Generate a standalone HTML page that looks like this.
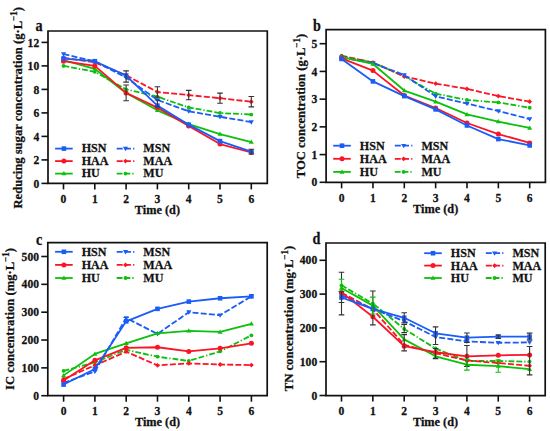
<!DOCTYPE html>
<html><head><meta charset="utf-8"><style>
html,body{margin:0;padding:0;background:#fff;width:550px;height:431px;overflow:hidden}
svg{display:block}
text{font-family:"Liberation Serif",serif;font-weight:bold;fill:#111;stroke:#111;stroke-width:0.25px}
</style></head><body>
<svg width="550" height="431" viewBox="0 0 550 431">
<rect width="550" height="431" fill="#fff"/>
<path d="M63.50,65.90L94.80,71.78L126.10,89.40L157.40,96.69L188.70,107.50L220.00,113.02L251.30,114.55" fill="none" stroke="#0cc00c" stroke-width="1.8" stroke-dasharray="5.8,2,5.8,2,1.3,2" stroke-linejoin="round"/>
<circle cx="63.50" cy="65.90" r="1.90" fill="#0cc00c"/>
<circle cx="94.80" cy="71.78" r="1.90" fill="#0cc00c"/>
<circle cx="126.10" cy="89.40" r="1.90" fill="#0cc00c"/>
<circle cx="157.40" cy="96.69" r="1.90" fill="#0cc00c"/>
<circle cx="188.70" cy="107.50" r="1.90" fill="#0cc00c"/>
<circle cx="220.00" cy="113.02" r="1.90" fill="#0cc00c"/>
<circle cx="251.30" cy="114.55" r="1.90" fill="#0cc00c"/>
<path d="M63.50,57.68L94.80,62.38L126.10,75.30L157.40,91.98L188.70,95.04L220.00,98.21L251.30,101.74" fill="none" stroke="#fc1424" stroke-width="1.8" stroke-dasharray="6,2.2" stroke-linejoin="round"/>
<path d="M63.50,55.28L65.90,57.68L63.50,60.08L61.10,57.68Z" fill="#fc1424"/>
<path d="M94.80,59.98L97.20,62.38L94.80,64.78L92.40,62.38Z" fill="#fc1424"/>
<path d="M126.10,72.90L128.50,75.30L126.10,77.70L123.70,75.30Z" fill="#fc1424"/>
<path d="M157.40,89.58L159.80,91.98L157.40,94.39L155.00,91.98Z" fill="#fc1424"/>
<path d="M188.70,92.64L191.10,95.04L188.70,97.44L186.30,95.04Z" fill="#fc1424"/>
<path d="M220.00,95.81L222.40,98.21L220.00,100.61L217.60,98.21Z" fill="#fc1424"/>
<path d="M251.30,99.34L253.70,101.74L251.30,104.14L248.90,101.74Z" fill="#fc1424"/>
<path d="M63.50,54.15L94.80,61.20L126.10,77.65L157.40,99.98L188.70,111.26L220.00,116.78L251.30,122.07" fill="none" stroke="#1a5cf8" stroke-width="1.8" stroke-dasharray="6,2.2" stroke-linejoin="round"/>
<path d="M63.50,56.75L66.10,52.33L60.90,52.33Z" fill="#1a5cf8"/>
<path d="M94.80,63.80L97.40,59.38L92.20,59.38Z" fill="#1a5cf8"/>
<path d="M126.10,80.25L128.70,75.83L123.50,75.83Z" fill="#1a5cf8"/>
<path d="M157.40,102.58L160.00,98.16L154.80,98.16Z" fill="#1a5cf8"/>
<path d="M188.70,113.86L191.30,109.44L186.10,109.44Z" fill="#1a5cf8"/>
<path d="M220.00,119.38L222.60,114.96L217.40,114.96Z" fill="#1a5cf8"/>
<path d="M251.30,124.67L253.90,120.25L248.70,120.25Z" fill="#1a5cf8"/>
<path d="M63.50,60.03L94.80,68.84L126.10,92.92L157.40,110.32L188.70,124.06L220.00,134.05L251.30,142.04" fill="none" stroke="#0cc00c" stroke-width="1.8" stroke-linejoin="round"/>
<path d="M63.50,57.53L66.00,61.78L61.00,61.78Z" fill="#0cc00c"/>
<path d="M94.80,66.34L97.30,70.59L92.30,70.59Z" fill="#0cc00c"/>
<path d="M126.10,90.42L128.60,94.67L123.60,94.67Z" fill="#0cc00c"/>
<path d="M157.40,107.82L159.90,112.07L154.90,112.07Z" fill="#0cc00c"/>
<path d="M188.70,121.56L191.20,125.81L186.20,125.81Z" fill="#0cc00c"/>
<path d="M220.00,131.55L222.50,135.80L217.50,135.80Z" fill="#0cc00c"/>
<path d="M251.30,139.54L253.80,143.79L248.80,143.79Z" fill="#0cc00c"/>
<path d="M63.50,61.20L94.80,65.90L126.10,92.92L157.40,107.61L188.70,126.06L220.00,144.04L251.30,152.50" fill="none" stroke="#fc1424" stroke-width="1.8" stroke-linejoin="round"/>
<circle cx="63.50" cy="61.20" r="2.50" fill="#fc1424"/>
<circle cx="94.80" cy="65.90" r="2.50" fill="#fc1424"/>
<circle cx="126.10" cy="92.92" r="2.50" fill="#fc1424"/>
<circle cx="157.40" cy="107.61" r="2.50" fill="#fc1424"/>
<circle cx="188.70" cy="126.06" r="2.50" fill="#fc1424"/>
<circle cx="220.00" cy="144.04" r="2.50" fill="#fc1424"/>
<circle cx="251.30" cy="152.50" r="2.50" fill="#fc1424"/>
<path d="M63.50,58.62L94.80,61.20L126.10,75.54L157.40,105.62L188.70,124.65L220.00,141.10L251.30,151.68" fill="none" stroke="#1a5cf8" stroke-width="1.8" stroke-linejoin="round"/>
<rect x="61.20" y="56.32" width="4.60" height="4.60" fill="#1a5cf8"/>
<rect x="92.50" y="58.90" width="4.60" height="4.60" fill="#1a5cf8"/>
<rect x="123.80" y="73.24" width="4.60" height="4.60" fill="#1a5cf8"/>
<rect x="155.10" y="103.32" width="4.60" height="4.60" fill="#1a5cf8"/>
<rect x="186.40" y="122.35" width="4.60" height="4.60" fill="#1a5cf8"/>
<rect x="217.70" y="138.80" width="4.60" height="4.60" fill="#1a5cf8"/>
<rect x="249.00" y="149.38" width="4.60" height="4.60" fill="#1a5cf8"/>
<path d="M126.10,70.84V82.12M123.30,70.84H128.90M123.30,82.12H128.90" stroke="#333" stroke-width="1.1" fill="none"/>
<path d="M126.10,85.05V100.80M123.30,85.05H128.90M123.30,100.80H128.90" stroke="#333" stroke-width="1.1" fill="none"/>
<path d="M157.40,86.81V97.16M154.60,86.81H160.20M154.60,97.16H160.20" stroke="#333" stroke-width="1.1" fill="none"/>
<path d="M157.40,99.98V107.03M154.60,99.98H160.20M154.60,107.03H160.20" stroke="#333" stroke-width="1.1" fill="none"/>
<path d="M188.70,90.34V99.74M185.90,90.34H191.50M185.90,99.74H191.50" stroke="#333" stroke-width="1.1" fill="none"/>
<path d="M220.00,93.16V103.27M217.20,93.16H222.80M217.20,103.27H222.80" stroke="#333" stroke-width="1.1" fill="none"/>
<path d="M251.30,96.57V106.91M248.50,96.57H254.10M248.50,106.91H254.10" stroke="#333" stroke-width="1.1" fill="none"/>
<path d="M251.30,149.32V154.03M248.50,149.32H254.10M248.50,154.03H254.10" stroke="#333" stroke-width="1.1" fill="none"/>
<path d="M48,31H267.3V183.4H48Z" fill="none" stroke="#111" stroke-width="1.7"/>
<path d="M41.50,183.40H48" stroke="#111" stroke-width="1.6"/>
<text transform="translate(39.20,187.50) scale(1,1.06)" font-size="11.6" text-anchor="end" font-family="'Liberation Serif', serif" font-weight="bold">0</text>
<path d="M41.50,159.90H48" stroke="#111" stroke-width="1.6"/>
<text transform="translate(39.20,164.00) scale(1,1.06)" font-size="11.6" text-anchor="end" font-family="'Liberation Serif', serif" font-weight="bold">2</text>
<path d="M41.50,136.40H48" stroke="#111" stroke-width="1.6"/>
<text transform="translate(39.20,140.50) scale(1,1.06)" font-size="11.6" text-anchor="end" font-family="'Liberation Serif', serif" font-weight="bold">4</text>
<path d="M41.50,112.90H48" stroke="#111" stroke-width="1.6"/>
<text transform="translate(39.20,117.00) scale(1,1.06)" font-size="11.6" text-anchor="end" font-family="'Liberation Serif', serif" font-weight="bold">6</text>
<path d="M41.50,89.40H48" stroke="#111" stroke-width="1.6"/>
<text transform="translate(39.20,93.50) scale(1,1.06)" font-size="11.6" text-anchor="end" font-family="'Liberation Serif', serif" font-weight="bold">8</text>
<path d="M41.50,65.90H48" stroke="#111" stroke-width="1.6"/>
<text transform="translate(39.20,70.00) scale(1,1.06)" font-size="11.6" text-anchor="end" font-family="'Liberation Serif', serif" font-weight="bold">10</text>
<path d="M41.50,42.40H48" stroke="#111" stroke-width="1.6"/>
<text transform="translate(39.20,46.50) scale(1,1.06)" font-size="11.6" text-anchor="end" font-family="'Liberation Serif', serif" font-weight="bold">12</text>
<path d="M63.50,183.4V189.40" stroke="#111" stroke-width="1.6"/>
<text transform="translate(63.50,203.10) scale(1,1.06)" font-size="11.6" text-anchor="middle" font-family="'Liberation Serif', serif" font-weight="bold">0</text>
<path d="M94.80,183.4V189.40" stroke="#111" stroke-width="1.6"/>
<text transform="translate(94.80,203.10) scale(1,1.06)" font-size="11.6" text-anchor="middle" font-family="'Liberation Serif', serif" font-weight="bold">1</text>
<path d="M126.10,183.4V189.40" stroke="#111" stroke-width="1.6"/>
<text transform="translate(126.10,203.10) scale(1,1.06)" font-size="11.6" text-anchor="middle" font-family="'Liberation Serif', serif" font-weight="bold">2</text>
<path d="M157.40,183.4V189.40" stroke="#111" stroke-width="1.6"/>
<text transform="translate(157.40,203.10) scale(1,1.06)" font-size="11.6" text-anchor="middle" font-family="'Liberation Serif', serif" font-weight="bold">3</text>
<path d="M188.70,183.4V189.40" stroke="#111" stroke-width="1.6"/>
<text transform="translate(188.70,203.10) scale(1,1.06)" font-size="11.6" text-anchor="middle" font-family="'Liberation Serif', serif" font-weight="bold">4</text>
<path d="M220.00,183.4V189.40" stroke="#111" stroke-width="1.6"/>
<text transform="translate(220.00,203.10) scale(1,1.06)" font-size="11.6" text-anchor="middle" font-family="'Liberation Serif', serif" font-weight="bold">5</text>
<path d="M251.30,183.4V189.40" stroke="#111" stroke-width="1.6"/>
<text transform="translate(251.30,203.10) scale(1,1.06)" font-size="11.6" text-anchor="middle" font-family="'Liberation Serif', serif" font-weight="bold">6</text>
<text transform="translate(157.40,213.80) scale(1,1.06)" font-size="12.3" text-anchor="middle" font-family="'Liberation Serif', serif" font-weight="bold">Time (d)</text>
<text transform="translate(21.90,107.80) rotate(-90) scale(1,1.06)" font-size="12.6" text-anchor="middle" font-family="'Liberation Serif', serif" font-weight="bold">Reducing sugar concentration (<tspan>g·L</tspan><tspan font-size="9" dy="-5">−1</tspan><tspan dy="5">)</tspan></text>
<text transform="translate(35.60,30.60) scale(0.86,1)" font-size="16.5" font-family="'Liberation Serif', serif" font-weight="bold">a</text>
<path d="M55.10,148.60H72.70" stroke="#1a5cf8" stroke-width="1.8"/>
<rect x="61.60" y="146.30" width="4.60" height="4.60" fill="#1a5cf8"/>
<text transform="translate(81.70,152.40) scale(1,1.11)" font-size="12.1" font-family="'Liberation Serif', serif" font-weight="bold">HSN</text>
<path d="M55.10,161.10H72.70" stroke="#fc1424" stroke-width="1.8"/>
<circle cx="63.90" cy="161.10" r="2.50" fill="#fc1424"/>
<text transform="translate(81.70,164.90) scale(1,1.11)" font-size="12.1" font-family="'Liberation Serif', serif" font-weight="bold">HAA</text>
<path d="M55.10,173.60H72.70" stroke="#0cc00c" stroke-width="1.8"/>
<path d="M63.90,171.10L66.40,175.35L61.40,175.35Z" fill="#0cc00c"/>
<text transform="translate(81.70,177.40) scale(1,1.11)" font-size="12.1" font-family="'Liberation Serif', serif" font-weight="bold">HU</text>
<path d="M116.70,148.60H134.30" stroke="#1a5cf8" stroke-width="1.8" stroke-dasharray="6,2.2"/>
<path d="M125.50,151.20L128.10,146.78L122.90,146.78Z" fill="#1a5cf8"/>
<text transform="translate(143.30,152.40) scale(1,1.11)" font-size="12.1" font-family="'Liberation Serif', serif" font-weight="bold">MSN</text>
<path d="M116.70,161.10H134.30" stroke="#fc1424" stroke-width="1.8" stroke-dasharray="6,2.2"/>
<path d="M125.50,158.70L127.90,161.10L125.50,163.50L123.10,161.10Z" fill="#fc1424"/>
<text transform="translate(143.30,164.90) scale(1,1.11)" font-size="12.1" font-family="'Liberation Serif', serif" font-weight="bold">MAA</text>
<path d="M116.70,173.60H134.30" stroke="#0cc00c" stroke-width="1.8" stroke-dasharray="5.8,2,5.8,2,1.3,2"/>
<circle cx="125.50" cy="173.60" r="1.90" fill="#0cc00c"/>
<text transform="translate(143.30,177.40) scale(1,1.11)" font-size="12.1" font-family="'Liberation Serif', serif" font-weight="bold">MU</text>
<path d="M341.60,55.62L372.95,62.55L404.30,76.41L435.65,93.60L467.00,99.97L498.35,102.47L529.70,107.73" fill="none" stroke="#0cc00c" stroke-width="1.8" stroke-dasharray="5.8,2,5.8,2,1.3,2" stroke-linejoin="round"/>
<circle cx="341.60" cy="55.62" r="1.90" fill="#0cc00c"/>
<circle cx="372.95" cy="62.55" r="1.90" fill="#0cc00c"/>
<circle cx="404.30" cy="76.41" r="1.90" fill="#0cc00c"/>
<circle cx="435.65" cy="93.60" r="1.90" fill="#0cc00c"/>
<circle cx="467.00" cy="99.97" r="1.90" fill="#0cc00c"/>
<circle cx="498.35" cy="102.47" r="1.90" fill="#0cc00c"/>
<circle cx="529.70" cy="107.73" r="1.90" fill="#0cc00c"/>
<path d="M341.60,56.17L372.95,62.55L404.30,76.41L435.65,83.62L467.00,88.88L498.35,96.09L529.70,101.63" fill="none" stroke="#fc1424" stroke-width="1.8" stroke-dasharray="6,2.2" stroke-linejoin="round"/>
<path d="M341.60,53.77L344.00,56.17L341.60,58.57L339.20,56.17Z" fill="#fc1424"/>
<path d="M372.95,60.15L375.35,62.55L372.95,64.95L370.55,62.55Z" fill="#fc1424"/>
<path d="M404.30,74.01L406.70,76.41L404.30,78.81L401.90,76.41Z" fill="#fc1424"/>
<path d="M435.65,81.22L438.05,83.62L435.65,86.02L433.25,83.62Z" fill="#fc1424"/>
<path d="M467.00,86.48L469.40,88.88L467.00,91.28L464.60,88.88Z" fill="#fc1424"/>
<path d="M498.35,93.69L500.75,96.09L498.35,98.49L495.95,96.09Z" fill="#fc1424"/>
<path d="M529.70,99.23L532.10,101.63L529.70,104.03L527.30,101.63Z" fill="#fc1424"/>
<path d="M341.60,57.56L372.95,63.10L404.30,75.02L435.65,96.37L467.00,103.58L498.35,111.06L529.70,119.10" fill="none" stroke="#1a5cf8" stroke-width="1.8" stroke-dasharray="6,2.2" stroke-linejoin="round"/>
<path d="M341.60,60.16L344.20,55.74L339.00,55.74Z" fill="#1a5cf8"/>
<path d="M372.95,65.70L375.55,61.28L370.35,61.28Z" fill="#1a5cf8"/>
<path d="M404.30,77.62L406.90,73.20L401.70,73.20Z" fill="#1a5cf8"/>
<path d="M435.65,98.97L438.25,94.55L433.05,94.55Z" fill="#1a5cf8"/>
<path d="M467.00,106.18L469.60,101.76L464.40,101.76Z" fill="#1a5cf8"/>
<path d="M498.35,113.66L500.95,109.24L495.75,109.24Z" fill="#1a5cf8"/>
<path d="M529.70,121.70L532.30,117.28L527.10,117.28Z" fill="#1a5cf8"/>
<path d="M341.60,57.01L372.95,63.94L404.30,90.55L435.65,101.63L467.00,114.39L498.35,121.59L529.70,127.97" fill="none" stroke="#0cc00c" stroke-width="1.8" stroke-linejoin="round"/>
<path d="M341.60,54.51L344.10,58.76L339.10,58.76Z" fill="#0cc00c"/>
<path d="M372.95,61.44L375.45,65.69L370.45,65.69Z" fill="#0cc00c"/>
<path d="M404.30,88.05L406.80,92.30L401.80,92.30Z" fill="#0cc00c"/>
<path d="M435.65,99.13L438.15,103.38L433.15,103.38Z" fill="#0cc00c"/>
<path d="M467.00,111.89L469.50,116.14L464.50,116.14Z" fill="#0cc00c"/>
<path d="M498.35,119.09L500.85,123.34L495.85,123.34Z" fill="#0cc00c"/>
<path d="M529.70,125.47L532.20,129.72L527.20,129.72Z" fill="#0cc00c"/>
<path d="M341.60,58.39L372.95,70.59L404.30,95.54L435.65,108.01L467.00,122.98L498.35,134.07L529.70,142.94" fill="none" stroke="#fc1424" stroke-width="1.8" stroke-linejoin="round"/>
<circle cx="341.60" cy="58.39" r="2.50" fill="#fc1424"/>
<circle cx="372.95" cy="70.59" r="2.50" fill="#fc1424"/>
<circle cx="404.30" cy="95.54" r="2.50" fill="#fc1424"/>
<circle cx="435.65" cy="108.01" r="2.50" fill="#fc1424"/>
<circle cx="467.00" cy="122.98" r="2.50" fill="#fc1424"/>
<circle cx="498.35" cy="134.07" r="2.50" fill="#fc1424"/>
<circle cx="529.70" cy="142.94" r="2.50" fill="#fc1424"/>
<path d="M341.60,58.95L372.95,81.40L404.30,96.09L435.65,109.40L467.00,125.47L498.35,139.06L529.70,145.43" fill="none" stroke="#1a5cf8" stroke-width="1.8" stroke-linejoin="round"/>
<rect x="339.30" y="56.65" width="4.60" height="4.60" fill="#1a5cf8"/>
<rect x="370.65" y="79.10" width="4.60" height="4.60" fill="#1a5cf8"/>
<rect x="402.00" y="93.79" width="4.60" height="4.60" fill="#1a5cf8"/>
<rect x="433.35" y="107.10" width="4.60" height="4.60" fill="#1a5cf8"/>
<rect x="464.70" y="123.17" width="4.60" height="4.60" fill="#1a5cf8"/>
<rect x="496.05" y="136.76" width="4.60" height="4.60" fill="#1a5cf8"/>
<rect x="527.40" y="143.13" width="4.60" height="4.60" fill="#1a5cf8"/>
<path d="M326.1,29.7H545.4V182.3H326.1Z" fill="none" stroke="#111" stroke-width="1.7"/>
<path d="M319.60,182.30H326.1" stroke="#111" stroke-width="1.6"/>
<text transform="translate(317.30,186.40) scale(1,1.06)" font-size="11.6" text-anchor="end" font-family="'Liberation Serif', serif" font-weight="bold">0</text>
<path d="M319.60,154.58H326.1" stroke="#111" stroke-width="1.6"/>
<text transform="translate(317.30,158.68) scale(1,1.06)" font-size="11.6" text-anchor="end" font-family="'Liberation Serif', serif" font-weight="bold">1</text>
<path d="M319.60,126.86H326.1" stroke="#111" stroke-width="1.6"/>
<text transform="translate(317.30,130.96) scale(1,1.06)" font-size="11.6" text-anchor="end" font-family="'Liberation Serif', serif" font-weight="bold">2</text>
<path d="M319.60,99.14H326.1" stroke="#111" stroke-width="1.6"/>
<text transform="translate(317.30,103.24) scale(1,1.06)" font-size="11.6" text-anchor="end" font-family="'Liberation Serif', serif" font-weight="bold">3</text>
<path d="M319.60,71.42H326.1" stroke="#111" stroke-width="1.6"/>
<text transform="translate(317.30,75.52) scale(1,1.06)" font-size="11.6" text-anchor="end" font-family="'Liberation Serif', serif" font-weight="bold">4</text>
<path d="M319.60,43.70H326.1" stroke="#111" stroke-width="1.6"/>
<text transform="translate(317.30,47.80) scale(1,1.06)" font-size="11.6" text-anchor="end" font-family="'Liberation Serif', serif" font-weight="bold">5</text>
<path d="M341.60,182.3V188.30" stroke="#111" stroke-width="1.6"/>
<text transform="translate(341.60,202.00) scale(1,1.06)" font-size="11.6" text-anchor="middle" font-family="'Liberation Serif', serif" font-weight="bold">0</text>
<path d="M372.95,182.3V188.30" stroke="#111" stroke-width="1.6"/>
<text transform="translate(372.95,202.00) scale(1,1.06)" font-size="11.6" text-anchor="middle" font-family="'Liberation Serif', serif" font-weight="bold">1</text>
<path d="M404.30,182.3V188.30" stroke="#111" stroke-width="1.6"/>
<text transform="translate(404.30,202.00) scale(1,1.06)" font-size="11.6" text-anchor="middle" font-family="'Liberation Serif', serif" font-weight="bold">2</text>
<path d="M435.65,182.3V188.30" stroke="#111" stroke-width="1.6"/>
<text transform="translate(435.65,202.00) scale(1,1.06)" font-size="11.6" text-anchor="middle" font-family="'Liberation Serif', serif" font-weight="bold">3</text>
<path d="M467.00,182.3V188.30" stroke="#111" stroke-width="1.6"/>
<text transform="translate(467.00,202.00) scale(1,1.06)" font-size="11.6" text-anchor="middle" font-family="'Liberation Serif', serif" font-weight="bold">4</text>
<path d="M498.35,182.3V188.30" stroke="#111" stroke-width="1.6"/>
<text transform="translate(498.35,202.00) scale(1,1.06)" font-size="11.6" text-anchor="middle" font-family="'Liberation Serif', serif" font-weight="bold">5</text>
<path d="M529.70,182.3V188.30" stroke="#111" stroke-width="1.6"/>
<text transform="translate(529.70,202.00) scale(1,1.06)" font-size="11.6" text-anchor="middle" font-family="'Liberation Serif', serif" font-weight="bold">6</text>
<text transform="translate(435.65,213.20) scale(1,1.06)" font-size="12.3" text-anchor="middle" font-family="'Liberation Serif', serif" font-weight="bold">Time (d)</text>
<text transform="translate(304.80,106.00) rotate(-90) scale(1,1.06)" font-size="12.6" text-anchor="middle" font-family="'Liberation Serif', serif" font-weight="bold">TOC concentration (<tspan>g·L</tspan><tspan font-size="9" dy="-5">−1</tspan><tspan dy="5">)</tspan></text>
<text transform="translate(313.00,31.30) scale(0.86,1)" font-size="16.5" font-family="'Liberation Serif', serif" font-weight="bold">b</text>
<path d="M333.20,145.70H350.80" stroke="#1a5cf8" stroke-width="1.8"/>
<rect x="339.70" y="143.40" width="4.60" height="4.60" fill="#1a5cf8"/>
<text transform="translate(359.80,149.70) scale(1,1.11)" font-size="12.1" font-family="'Liberation Serif', serif" font-weight="bold">HSN</text>
<path d="M333.20,158.80H350.80" stroke="#fc1424" stroke-width="1.8"/>
<circle cx="342.00" cy="158.80" r="2.50" fill="#fc1424"/>
<text transform="translate(359.80,162.80) scale(1,1.11)" font-size="12.1" font-family="'Liberation Serif', serif" font-weight="bold">HAA</text>
<path d="M333.20,171.90H350.80" stroke="#0cc00c" stroke-width="1.8"/>
<path d="M342.00,169.40L344.50,173.65L339.50,173.65Z" fill="#0cc00c"/>
<text transform="translate(359.80,175.90) scale(1,1.11)" font-size="12.1" font-family="'Liberation Serif', serif" font-weight="bold">HU</text>
<path d="M394.80,145.70H412.40" stroke="#1a5cf8" stroke-width="1.8" stroke-dasharray="6,2.2"/>
<path d="M403.60,148.30L406.20,143.88L401.00,143.88Z" fill="#1a5cf8"/>
<text transform="translate(421.40,149.70) scale(1,1.11)" font-size="12.1" font-family="'Liberation Serif', serif" font-weight="bold">MSN</text>
<path d="M394.80,158.80H412.40" stroke="#fc1424" stroke-width="1.8" stroke-dasharray="6,2.2"/>
<path d="M403.60,156.40L406.00,158.80L403.60,161.20L401.20,158.80Z" fill="#fc1424"/>
<text transform="translate(421.40,162.80) scale(1,1.11)" font-size="12.1" font-family="'Liberation Serif', serif" font-weight="bold">MAA</text>
<path d="M394.80,171.90H412.40" stroke="#0cc00c" stroke-width="1.8" stroke-dasharray="5.8,2,5.8,2,1.3,2"/>
<circle cx="403.60" cy="171.90" r="1.90" fill="#0cc00c"/>
<text transform="translate(421.40,175.90) scale(1,1.11)" font-size="12.1" font-family="'Liberation Serif', serif" font-weight="bold">MU</text>
<path d="M63.60,370.92L94.90,362.29L126.20,349.76L157.50,356.72L188.80,360.90L220.10,351.43L251.40,335.29" fill="none" stroke="#0cc00c" stroke-width="1.8" stroke-dasharray="5.8,2,5.8,2,1.3,2" stroke-linejoin="round"/>
<circle cx="63.60" cy="370.92" r="1.90" fill="#0cc00c"/>
<circle cx="94.90" cy="362.29" r="1.90" fill="#0cc00c"/>
<circle cx="126.20" cy="349.76" r="1.90" fill="#0cc00c"/>
<circle cx="157.50" cy="356.72" r="1.90" fill="#0cc00c"/>
<circle cx="188.80" cy="360.90" r="1.90" fill="#0cc00c"/>
<circle cx="220.10" cy="351.43" r="1.90" fill="#0cc00c"/>
<circle cx="251.40" cy="335.29" r="1.90" fill="#0cc00c"/>
<path d="M63.60,379.00L94.90,365.35L126.20,351.71L157.50,365.35L188.80,363.41L220.10,364.52L251.40,365.08" fill="none" stroke="#fc1424" stroke-width="1.8" stroke-dasharray="6,2.2" stroke-linejoin="round"/>
<path d="M63.60,376.60L66.00,379.00L63.60,381.40L61.20,379.00Z" fill="#fc1424"/>
<path d="M94.90,362.95L97.30,365.35L94.90,367.75L92.50,365.35Z" fill="#fc1424"/>
<path d="M126.20,349.31L128.60,351.71L126.20,354.11L123.80,351.71Z" fill="#fc1424"/>
<path d="M157.50,362.95L159.90,365.35L157.50,367.75L155.10,365.35Z" fill="#fc1424"/>
<path d="M188.80,361.01L191.20,363.41L188.80,365.81L186.40,363.41Z" fill="#fc1424"/>
<path d="M220.10,362.12L222.50,364.52L220.10,366.92L217.70,364.52Z" fill="#fc1424"/>
<path d="M251.40,362.68L253.80,365.08L251.40,367.48L249.00,365.08Z" fill="#fc1424"/>
<path d="M63.60,382.89L94.90,371.48L126.20,318.03L157.50,333.90L188.80,312.18L220.10,315.24L251.40,296.31" fill="none" stroke="#1a5cf8" stroke-width="1.8" stroke-dasharray="6,2.2" stroke-linejoin="round"/>
<path d="M63.60,385.49L66.20,381.07L61.00,381.07Z" fill="#1a5cf8"/>
<path d="M94.90,374.08L97.50,369.66L92.30,369.66Z" fill="#1a5cf8"/>
<path d="M126.20,320.63L128.80,316.21L123.60,316.21Z" fill="#1a5cf8"/>
<path d="M157.50,336.50L160.10,332.08L154.90,332.08Z" fill="#1a5cf8"/>
<path d="M188.80,314.78L191.40,310.36L186.20,310.36Z" fill="#1a5cf8"/>
<path d="M220.10,317.84L222.70,313.42L217.50,313.42Z" fill="#1a5cf8"/>
<path d="M251.40,298.91L254.00,294.49L248.80,294.49Z" fill="#1a5cf8"/>
<path d="M63.60,375.38L94.90,353.94L126.20,343.36L157.50,333.34L188.80,330.83L220.10,331.95L251.40,323.87" fill="none" stroke="#0cc00c" stroke-width="1.8" stroke-linejoin="round"/>
<path d="M63.60,372.88L66.10,377.13L61.10,377.13Z" fill="#0cc00c"/>
<path d="M94.90,351.44L97.40,355.69L92.40,355.69Z" fill="#0cc00c"/>
<path d="M126.20,340.86L128.70,345.11L123.70,345.11Z" fill="#0cc00c"/>
<path d="M157.50,330.84L160.00,335.09L155.00,335.09Z" fill="#0cc00c"/>
<path d="M188.80,328.33L191.30,332.58L186.30,332.58Z" fill="#0cc00c"/>
<path d="M220.10,329.45L222.60,333.70L217.60,333.70Z" fill="#0cc00c"/>
<path d="M251.40,321.37L253.90,325.62L248.90,325.62Z" fill="#0cc00c"/>
<path d="M63.60,380.39L94.90,360.34L126.20,347.82L157.50,347.26L188.80,351.43L220.10,348.37L251.40,343.36" fill="none" stroke="#fc1424" stroke-width="1.8" stroke-linejoin="round"/>
<circle cx="63.60" cy="380.39" r="2.50" fill="#fc1424"/>
<circle cx="94.90" cy="360.34" r="2.50" fill="#fc1424"/>
<circle cx="126.20" cy="347.82" r="2.50" fill="#fc1424"/>
<circle cx="157.50" cy="347.26" r="2.50" fill="#fc1424"/>
<circle cx="188.80" cy="351.43" r="2.50" fill="#fc1424"/>
<circle cx="220.10" cy="348.37" r="2.50" fill="#fc1424"/>
<circle cx="251.40" cy="343.36" r="2.50" fill="#fc1424"/>
<path d="M63.60,384.56L94.90,368.97L126.20,321.37L157.50,308.84L188.80,301.60L220.10,298.26L251.40,296.31" fill="none" stroke="#1a5cf8" stroke-width="1.8" stroke-linejoin="round"/>
<rect x="61.30" y="382.26" width="4.60" height="4.60" fill="#1a5cf8"/>
<rect x="92.60" y="366.67" width="4.60" height="4.60" fill="#1a5cf8"/>
<rect x="123.90" y="319.07" width="4.60" height="4.60" fill="#1a5cf8"/>
<rect x="155.20" y="306.54" width="4.60" height="4.60" fill="#1a5cf8"/>
<rect x="186.50" y="299.30" width="4.60" height="4.60" fill="#1a5cf8"/>
<rect x="217.80" y="295.96" width="4.60" height="4.60" fill="#1a5cf8"/>
<rect x="249.10" y="294.01" width="4.60" height="4.60" fill="#1a5cf8"/>
<path d="M126.20,317.47V321.37M123.40,317.47H129.00M123.40,321.37H129.00" stroke="#1a5cf8" stroke-width="1.1" fill="none"/>
<path d="M47.8,242.6H267.2V395.7H47.8Z" fill="none" stroke="#111" stroke-width="1.7"/>
<path d="M41.30,395.70H47.8" stroke="#111" stroke-width="1.6"/>
<text transform="translate(39.00,399.80) scale(1,1.06)" font-size="11.6" text-anchor="end" font-family="'Liberation Serif', serif" font-weight="bold">0</text>
<path d="M41.30,367.86H47.8" stroke="#111" stroke-width="1.6"/>
<text transform="translate(39.00,371.96) scale(1,1.06)" font-size="11.6" text-anchor="end" font-family="'Liberation Serif', serif" font-weight="bold">100</text>
<path d="M41.30,340.02H47.8" stroke="#111" stroke-width="1.6"/>
<text transform="translate(39.00,344.12) scale(1,1.06)" font-size="11.6" text-anchor="end" font-family="'Liberation Serif', serif" font-weight="bold">200</text>
<path d="M41.30,312.18H47.8" stroke="#111" stroke-width="1.6"/>
<text transform="translate(39.00,316.28) scale(1,1.06)" font-size="11.6" text-anchor="end" font-family="'Liberation Serif', serif" font-weight="bold">300</text>
<path d="M41.30,284.34H47.8" stroke="#111" stroke-width="1.6"/>
<text transform="translate(39.00,288.44) scale(1,1.06)" font-size="11.6" text-anchor="end" font-family="'Liberation Serif', serif" font-weight="bold">400</text>
<path d="M41.30,256.50H47.8" stroke="#111" stroke-width="1.6"/>
<text transform="translate(39.00,260.60) scale(1,1.06)" font-size="11.6" text-anchor="end" font-family="'Liberation Serif', serif" font-weight="bold">500</text>
<path d="M63.60,395.7V401.70" stroke="#111" stroke-width="1.6"/>
<text transform="translate(63.60,415.40) scale(1,1.06)" font-size="11.6" text-anchor="middle" font-family="'Liberation Serif', serif" font-weight="bold">0</text>
<path d="M94.90,395.7V401.70" stroke="#111" stroke-width="1.6"/>
<text transform="translate(94.90,415.40) scale(1,1.06)" font-size="11.6" text-anchor="middle" font-family="'Liberation Serif', serif" font-weight="bold">1</text>
<path d="M126.20,395.7V401.70" stroke="#111" stroke-width="1.6"/>
<text transform="translate(126.20,415.40) scale(1,1.06)" font-size="11.6" text-anchor="middle" font-family="'Liberation Serif', serif" font-weight="bold">2</text>
<path d="M157.50,395.7V401.70" stroke="#111" stroke-width="1.6"/>
<text transform="translate(157.50,415.40) scale(1,1.06)" font-size="11.6" text-anchor="middle" font-family="'Liberation Serif', serif" font-weight="bold">3</text>
<path d="M188.80,395.7V401.70" stroke="#111" stroke-width="1.6"/>
<text transform="translate(188.80,415.40) scale(1,1.06)" font-size="11.6" text-anchor="middle" font-family="'Liberation Serif', serif" font-weight="bold">4</text>
<path d="M220.10,395.7V401.70" stroke="#111" stroke-width="1.6"/>
<text transform="translate(220.10,415.40) scale(1,1.06)" font-size="11.6" text-anchor="middle" font-family="'Liberation Serif', serif" font-weight="bold">5</text>
<path d="M251.40,395.7V401.70" stroke="#111" stroke-width="1.6"/>
<text transform="translate(251.40,415.40) scale(1,1.06)" font-size="11.6" text-anchor="middle" font-family="'Liberation Serif', serif" font-weight="bold">6</text>
<text transform="translate(157.50,426.10) scale(1,1.06)" font-size="12.3" text-anchor="middle" font-family="'Liberation Serif', serif" font-weight="bold">Time (d)</text>
<text transform="translate(14.30,319.00) rotate(-90) scale(1,1.06)" font-size="12.6" text-anchor="middle" font-family="'Liberation Serif', serif" font-weight="bold">IC concentration (<tspan>mg·L</tspan><tspan font-size="9" dy="-5">−1</tspan><tspan dy="5">)</tspan></text>
<text transform="translate(36.00,244.60) scale(0.86,1)" font-size="16.5" font-family="'Liberation Serif', serif" font-weight="bold">c</text>
<path d="M55.10,251.80H72.70" stroke="#1a5cf8" stroke-width="1.8"/>
<rect x="61.60" y="249.50" width="4.60" height="4.60" fill="#1a5cf8"/>
<text transform="translate(81.70,256.00) scale(1,1.11)" font-size="12.1" font-family="'Liberation Serif', serif" font-weight="bold">HSN</text>
<path d="M55.10,264.90H72.70" stroke="#fc1424" stroke-width="1.8"/>
<circle cx="63.90" cy="264.90" r="2.50" fill="#fc1424"/>
<text transform="translate(81.70,269.10) scale(1,1.11)" font-size="12.1" font-family="'Liberation Serif', serif" font-weight="bold">HAA</text>
<path d="M55.10,278.00H72.70" stroke="#0cc00c" stroke-width="1.8"/>
<path d="M63.90,275.50L66.40,279.75L61.40,279.75Z" fill="#0cc00c"/>
<text transform="translate(81.70,282.20) scale(1,1.11)" font-size="12.1" font-family="'Liberation Serif', serif" font-weight="bold">HU</text>
<path d="M116.70,251.80H134.30" stroke="#1a5cf8" stroke-width="1.8" stroke-dasharray="6,2.2"/>
<path d="M125.50,254.40L128.10,249.98L122.90,249.98Z" fill="#1a5cf8"/>
<text transform="translate(143.30,256.00) scale(1,1.11)" font-size="12.1" font-family="'Liberation Serif', serif" font-weight="bold">MSN</text>
<path d="M116.70,264.90H134.30" stroke="#fc1424" stroke-width="1.8" stroke-dasharray="6,2.2"/>
<path d="M125.50,262.50L127.90,264.90L125.50,267.30L123.10,264.90Z" fill="#fc1424"/>
<text transform="translate(143.30,269.10) scale(1,1.11)" font-size="12.1" font-family="'Liberation Serif', serif" font-weight="bold">MAA</text>
<path d="M116.70,278.00H134.30" stroke="#0cc00c" stroke-width="1.8" stroke-dasharray="5.8,2,5.8,2,1.3,2"/>
<circle cx="125.50" cy="278.00" r="1.90" fill="#0cc00c"/>
<text transform="translate(143.30,282.20) scale(1,1.11)" font-size="12.1" font-family="'Liberation Serif', serif" font-weight="bold">MU</text>
<path d="M341.50,285.31L372.85,303.56L404.20,328.91L435.55,348.52L466.90,361.02L498.25,361.02L529.60,361.70" fill="none" stroke="#0cc00c" stroke-width="1.8" stroke-dasharray="5.8,2,5.8,2,1.3,2" stroke-linejoin="round"/>
<circle cx="341.50" cy="285.31" r="1.90" fill="#0cc00c"/>
<circle cx="372.85" cy="303.56" r="1.90" fill="#0cc00c"/>
<circle cx="404.20" cy="328.91" r="1.90" fill="#0cc00c"/>
<circle cx="435.55" cy="348.52" r="1.90" fill="#0cc00c"/>
<circle cx="466.90" cy="361.02" r="1.90" fill="#0cc00c"/>
<circle cx="498.25" cy="361.02" r="1.90" fill="#0cc00c"/>
<circle cx="529.60" cy="361.70" r="1.90" fill="#0cc00c"/>
<path d="M341.50,292.75L372.85,309.31L404.20,344.80L435.55,353.25L466.90,360.35L498.25,363.05L529.60,365.76" fill="none" stroke="#fc1424" stroke-width="1.8" stroke-dasharray="6,2.2" stroke-linejoin="round"/>
<path d="M341.50,290.35L343.90,292.75L341.50,295.15L339.10,292.75Z" fill="#fc1424"/>
<path d="M372.85,306.91L375.25,309.31L372.85,311.71L370.45,309.31Z" fill="#fc1424"/>
<path d="M404.20,342.40L406.60,344.80L404.20,347.20L401.80,344.80Z" fill="#fc1424"/>
<path d="M435.55,350.85L437.95,353.25L435.55,355.65L433.15,353.25Z" fill="#fc1424"/>
<path d="M466.90,357.95L469.30,360.35L466.90,362.75L464.50,360.35Z" fill="#fc1424"/>
<path d="M498.25,360.65L500.65,363.05L498.25,365.45L495.85,363.05Z" fill="#fc1424"/>
<path d="M529.60,363.36L532.00,365.76L529.60,368.16L527.20,365.76Z" fill="#fc1424"/>
<path d="M341.50,295.45L372.85,308.97L404.20,321.14L435.55,337.03L466.90,341.42L498.25,342.77L529.60,342.43" fill="none" stroke="#1a5cf8" stroke-width="1.8" stroke-dasharray="6,2.2" stroke-linejoin="round"/>
<path d="M341.50,298.05L344.10,293.63L338.90,293.63Z" fill="#1a5cf8"/>
<path d="M372.85,311.57L375.45,307.15L370.25,307.15Z" fill="#1a5cf8"/>
<path d="M404.20,323.74L406.80,319.32L401.60,319.32Z" fill="#1a5cf8"/>
<path d="M435.55,339.63L438.15,335.21L432.95,335.21Z" fill="#1a5cf8"/>
<path d="M466.90,344.02L469.50,339.60L464.30,339.60Z" fill="#1a5cf8"/>
<path d="M498.25,345.37L500.85,340.95L495.65,340.95Z" fill="#1a5cf8"/>
<path d="M529.60,345.03L532.20,340.61L527.00,340.61Z" fill="#1a5cf8"/>
<path d="M341.50,288.02L372.85,305.59L404.20,339.39L435.55,356.29L466.90,364.74L498.25,366.09L529.60,369.14" fill="none" stroke="#0cc00c" stroke-width="1.8" stroke-linejoin="round"/>
<path d="M341.50,285.52L344.00,289.77L339.00,289.77Z" fill="#0cc00c"/>
<path d="M372.85,303.09L375.35,307.34L370.35,307.34Z" fill="#0cc00c"/>
<path d="M404.20,336.89L406.70,341.14L401.70,341.14Z" fill="#0cc00c"/>
<path d="M435.55,353.79L438.05,358.04L433.05,358.04Z" fill="#0cc00c"/>
<path d="M466.90,362.24L469.40,366.49L464.40,366.49Z" fill="#0cc00c"/>
<path d="M498.25,363.59L500.75,367.84L495.75,367.84Z" fill="#0cc00c"/>
<path d="M529.60,366.64L532.10,370.89L527.10,370.89Z" fill="#0cc00c"/>
<path d="M341.50,292.41L372.85,316.75L404.20,346.15L435.55,352.24L466.90,356.29L498.25,355.28L529.60,354.94" fill="none" stroke="#fc1424" stroke-width="1.8" stroke-linejoin="round"/>
<circle cx="341.50" cy="292.41" r="2.50" fill="#fc1424"/>
<circle cx="372.85" cy="316.75" r="2.50" fill="#fc1424"/>
<circle cx="404.20" cy="346.15" r="2.50" fill="#fc1424"/>
<circle cx="435.55" cy="352.24" r="2.50" fill="#fc1424"/>
<circle cx="466.90" cy="356.29" r="2.50" fill="#fc1424"/>
<circle cx="498.25" cy="355.28" r="2.50" fill="#fc1424"/>
<circle cx="529.60" cy="354.94" r="2.50" fill="#fc1424"/>
<path d="M341.50,297.48L372.85,308.97L404.20,317.76L435.55,333.31L466.90,337.70L498.25,336.69L529.60,336.69" fill="none" stroke="#1a5cf8" stroke-width="1.8" stroke-linejoin="round"/>
<rect x="339.20" y="295.18" width="4.60" height="4.60" fill="#1a5cf8"/>
<rect x="370.55" y="306.67" width="4.60" height="4.60" fill="#1a5cf8"/>
<rect x="401.90" y="315.46" width="4.60" height="4.60" fill="#1a5cf8"/>
<rect x="433.25" y="331.01" width="4.60" height="4.60" fill="#1a5cf8"/>
<rect x="464.60" y="335.40" width="4.60" height="4.60" fill="#1a5cf8"/>
<rect x="495.95" y="334.39" width="4.60" height="4.60" fill="#1a5cf8"/>
<rect x="527.30" y="334.39" width="4.60" height="4.60" fill="#1a5cf8"/>
<path d="M341.50,272.30V314.89M338.70,272.30H344.30M338.70,314.89H344.30" stroke="#333" stroke-width="1.1" fill="none"/>
<path d="M341.50,279.23V291.40M338.70,279.23H344.30M338.70,291.40H344.30" stroke="#0cc00c" stroke-width="1.1" fill="none"/>
<path d="M341.50,291.73V302.55M338.70,291.73H344.30M338.70,302.55H344.30" stroke="#333" stroke-width="1.1" fill="none"/>
<path d="M372.85,291.06V324.86M370.05,291.06H375.65M370.05,324.86H375.65" stroke="#333" stroke-width="1.1" fill="none"/>
<path d="M372.85,297.14V314.04M370.05,297.14H375.65M370.05,314.04H375.65" stroke="#0cc00c" stroke-width="1.1" fill="none"/>
<path d="M404.20,312.69V322.83M401.40,312.69H407.00M401.40,322.83H407.00" stroke="#333" stroke-width="1.1" fill="none"/>
<path d="M404.20,324.52V332.63M401.40,324.52H407.00M401.40,332.63H407.00" stroke="#333" stroke-width="1.1" fill="none"/>
<path d="M404.20,334.66V350.88M401.40,334.66H407.00M401.40,350.88H407.00" stroke="#333" stroke-width="1.1" fill="none"/>
<path d="M435.55,326.89V344.46M432.75,326.89H438.35M432.75,344.46H438.35" stroke="#333" stroke-width="1.1" fill="none"/>
<path d="M435.55,348.52V358.66M432.75,348.52H438.35M432.75,358.66H438.35" stroke="#333" stroke-width="1.1" fill="none"/>
<path d="M466.90,332.97V342.43M464.10,332.97H469.70M464.10,342.43H469.70" stroke="#333" stroke-width="1.1" fill="none"/>
<path d="M466.90,345.48V366.43M464.10,345.48H469.70M464.10,366.43H469.70" stroke="#333" stroke-width="1.1" fill="none"/>
<path d="M466.90,359.33V370.15M464.10,359.33H469.70M464.10,370.15H469.70" stroke="#0cc00c" stroke-width="1.1" fill="none"/>
<path d="M498.25,335.00V338.38M495.45,335.00H501.05M495.45,338.38H501.05" stroke="#333" stroke-width="1.1" fill="none"/>
<path d="M498.25,360.01V372.18M495.45,360.01H501.05M495.45,372.18H501.05" stroke="#0cc00c" stroke-width="1.1" fill="none"/>
<path d="M529.60,333.14V339.90M526.80,333.14H532.40M526.80,339.90H532.40" stroke="#333" stroke-width="1.1" fill="none"/>
<path d="M529.60,346.49V374.88M526.80,346.49H532.40M526.80,374.88H532.40" stroke="#333" stroke-width="1.1" fill="none"/>
<path d="M326,243H545.2V395.6H326Z" fill="none" stroke="#111" stroke-width="1.7"/>
<path d="M319.50,395.50H326" stroke="#111" stroke-width="1.6"/>
<text transform="translate(317.20,399.60) scale(1,1.06)" font-size="11.6" text-anchor="end" font-family="'Liberation Serif', serif" font-weight="bold">0</text>
<path d="M319.50,361.70H326" stroke="#111" stroke-width="1.6"/>
<text transform="translate(317.20,365.80) scale(1,1.06)" font-size="11.6" text-anchor="end" font-family="'Liberation Serif', serif" font-weight="bold">100</text>
<path d="M319.50,327.90H326" stroke="#111" stroke-width="1.6"/>
<text transform="translate(317.20,332.00) scale(1,1.06)" font-size="11.6" text-anchor="end" font-family="'Liberation Serif', serif" font-weight="bold">200</text>
<path d="M319.50,294.10H326" stroke="#111" stroke-width="1.6"/>
<text transform="translate(317.20,298.20) scale(1,1.06)" font-size="11.6" text-anchor="end" font-family="'Liberation Serif', serif" font-weight="bold">300</text>
<path d="M319.50,260.30H326" stroke="#111" stroke-width="1.6"/>
<text transform="translate(317.20,264.40) scale(1,1.06)" font-size="11.6" text-anchor="end" font-family="'Liberation Serif', serif" font-weight="bold">400</text>
<path d="M341.50,395.6V401.60" stroke="#111" stroke-width="1.6"/>
<text transform="translate(341.50,415.30) scale(1,1.06)" font-size="11.6" text-anchor="middle" font-family="'Liberation Serif', serif" font-weight="bold">0</text>
<path d="M372.85,395.6V401.60" stroke="#111" stroke-width="1.6"/>
<text transform="translate(372.85,415.30) scale(1,1.06)" font-size="11.6" text-anchor="middle" font-family="'Liberation Serif', serif" font-weight="bold">1</text>
<path d="M404.20,395.6V401.60" stroke="#111" stroke-width="1.6"/>
<text transform="translate(404.20,415.30) scale(1,1.06)" font-size="11.6" text-anchor="middle" font-family="'Liberation Serif', serif" font-weight="bold">2</text>
<path d="M435.55,395.6V401.60" stroke="#111" stroke-width="1.6"/>
<text transform="translate(435.55,415.30) scale(1,1.06)" font-size="11.6" text-anchor="middle" font-family="'Liberation Serif', serif" font-weight="bold">3</text>
<path d="M466.90,395.6V401.60" stroke="#111" stroke-width="1.6"/>
<text transform="translate(466.90,415.30) scale(1,1.06)" font-size="11.6" text-anchor="middle" font-family="'Liberation Serif', serif" font-weight="bold">4</text>
<path d="M498.25,395.6V401.60" stroke="#111" stroke-width="1.6"/>
<text transform="translate(498.25,415.30) scale(1,1.06)" font-size="11.6" text-anchor="middle" font-family="'Liberation Serif', serif" font-weight="bold">5</text>
<path d="M529.60,395.6V401.60" stroke="#111" stroke-width="1.6"/>
<text transform="translate(529.60,415.30) scale(1,1.06)" font-size="11.6" text-anchor="middle" font-family="'Liberation Serif', serif" font-weight="bold">6</text>
<text transform="translate(435.55,426.00) scale(1,1.06)" font-size="12.3" text-anchor="middle" font-family="'Liberation Serif', serif" font-weight="bold">Time (d)</text>
<text transform="translate(292.80,318.50) rotate(-90) scale(1,1.06)" font-size="12.6" text-anchor="middle" font-family="'Liberation Serif', serif" font-weight="bold">TN concentration (<tspan>mg·L</tspan><tspan font-size="9" dy="-5">−1</tspan><tspan dy="5">)</tspan></text>
<text transform="translate(312.40,244.20) scale(0.86,1)" font-size="16.5" font-family="'Liberation Serif', serif" font-weight="bold">d</text>
<path d="M424.20,253.20H441.80" stroke="#1a5cf8" stroke-width="1.8"/>
<rect x="430.70" y="250.90" width="4.60" height="4.60" fill="#1a5cf8"/>
<text transform="translate(450.80,257.20) scale(1,1.11)" font-size="12.1" font-family="'Liberation Serif', serif" font-weight="bold">HSN</text>
<path d="M424.20,265.60H441.80" stroke="#fc1424" stroke-width="1.8"/>
<circle cx="433.00" cy="265.60" r="2.50" fill="#fc1424"/>
<text transform="translate(450.80,269.60) scale(1,1.11)" font-size="12.1" font-family="'Liberation Serif', serif" font-weight="bold">HAA</text>
<path d="M424.20,278.00H441.80" stroke="#0cc00c" stroke-width="1.8"/>
<path d="M433.00,275.50L435.50,279.75L430.50,279.75Z" fill="#0cc00c"/>
<text transform="translate(450.80,282.00) scale(1,1.11)" font-size="12.1" font-family="'Liberation Serif', serif" font-weight="bold">HU</text>
<path d="M485.80,253.20H503.40" stroke="#1a5cf8" stroke-width="1.8" stroke-dasharray="6,2.2"/>
<path d="M494.60,255.80L497.20,251.38L492.00,251.38Z" fill="#1a5cf8"/>
<text transform="translate(512.40,257.20) scale(1,1.11)" font-size="12.1" font-family="'Liberation Serif', serif" font-weight="bold">MSN</text>
<path d="M485.80,265.60H503.40" stroke="#fc1424" stroke-width="1.8" stroke-dasharray="6,2.2"/>
<path d="M494.60,263.20L497.00,265.60L494.60,268.00L492.20,265.60Z" fill="#fc1424"/>
<text transform="translate(512.40,269.60) scale(1,1.11)" font-size="12.1" font-family="'Liberation Serif', serif" font-weight="bold">MAA</text>
<path d="M485.80,278.00H503.40" stroke="#0cc00c" stroke-width="1.8" stroke-dasharray="5.8,2,5.8,2,1.3,2"/>
<circle cx="494.60" cy="278.00" r="1.90" fill="#0cc00c"/>
<text transform="translate(512.40,282.00) scale(1,1.11)" font-size="12.1" font-family="'Liberation Serif', serif" font-weight="bold">MU</text>
</svg>
</body></html>
